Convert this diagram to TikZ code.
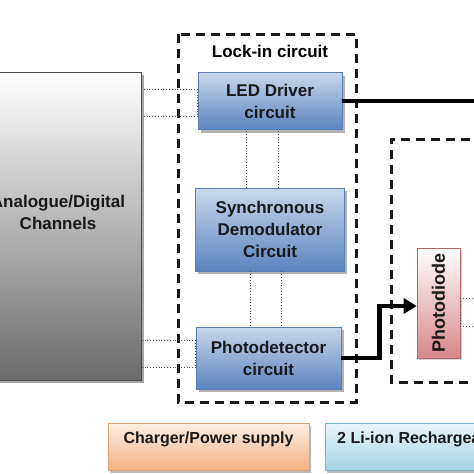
\documentclass[tikz,border=0pt]{standalone}
\usepackage{fontspec}
\setmainfont{Liberation Sans}
\usetikzlibrary{shadows,arrows.meta,calc}
\definecolor{bluetop}{HTML}{C9D8EC}
\definecolor{bluebot}{HTML}{5A83BF}
\definecolor{blueedge}{HTML}{5A7FB5}
\definecolor{redtop}{HTML}{FFFFFF}
\definecolor{redbot}{HTML}{D8868A}
\definecolor{rededge}{HTML}{B86468}
\definecolor{orgtop}{HTML}{FDF0E4}
\definecolor{orgbot}{HTML}{F4B183}
\definecolor{orgedge}{HTML}{E0A068}
\definecolor{cyntop}{HTML}{EAF6FA}
\definecolor{cynbot}{HTML}{A3D4E4}
\definecolor{cynedge}{HTML}{74B3C9}
\begin{document}
\begin{tikzpicture}[x=1pt,y=-1pt,
  font=\bfseries\fontsize{17}{22}\selectfont,
  bluebox/.style={rectangle, draw=blueedge, line width=0.6pt, top color=bluetop, bottom color=bluebot,
    align=center, inner sep=0pt, text=black!90,
    drop shadow={shadow xshift=2.5pt, shadow yshift=-3pt, opacity=0.5, fill=black!60}},
  dashbox/.style={draw=black!90, line width=3pt, dash pattern=on 9pt off 6pt},
  dotline/.style={draw=black!70, line width=0.8pt, dotted},
  thickline/.style={draw=black, line width=4.5pt},
]
\useasboundingbox (0,0) rectangle (474,474);
\clip (0,0) rectangle (474,474);
\fill[white] (0,0) rectangle (474,474);

% Analogue/Digital box
\node[rectangle, draw=black!70, line width=0.8pt, top color=white, bottom color=black!58,
  minimum width=166pt, minimum height=308pt, inner sep=0pt,
  drop shadow={shadow xshift=2.5pt, shadow yshift=-2.5pt, opacity=0.5, fill=black!70}] (an) at (58,226) {};
\node[align=center, text=black!90] (antext) at (58,212) {Analogue/Digital\\Channels};

% Lock-in dashed box
\draw[dashbox] (178,34) rectangle (356,402);
\node (locktitle) at (270,51) {Lock-in circuit};

% Right dashed box
\draw[dashbox] (500,139) -- (391,139) -- (391,382) -- (500,382);

% Blue boxes
\node[bluebox, minimum width=144pt, minimum height=57pt] (led) at (270,101) {LED Driver\\circuit};
\node[bluebox, minimum width=149pt, minimum height=83pt] (sync) at (270,229.5) {Synchronous\\Demodulator\\Circuit};
\node[bluebox, minimum width=145pt, minimum height=62pt] (pdet) at (268.5,358) {Photodetector\\circuit};

% Photodiode
\node[rectangle, draw=rededge, line width=0.6pt, top color=redtop, bottom color=redbot,
  minimum width=43pt, minimum height=110pt, inner sep=0pt,
  drop shadow={shadow xshift=2pt, shadow yshift=-2pt, opacity=0.35, fill=black!50}] (pdiode) at (438.5,303) {};
\node[rotate=90, text=black!90, font=\bfseries\fontsize{18}{22}\selectfont] (pdtext) at (438.5,303) {Photodiode};

% Bottom boxes
\node[rectangle, draw=orgedge, line width=0.6pt, top color=orgtop, bottom color=orgbot,
  minimum width=201pt, minimum height=47pt, inner sep=0pt,
  drop shadow={shadow xshift=1.5pt, shadow yshift=-2.5pt, opacity=0.45, fill=black!60}] (charger) at (208.5,446.5) {};
\node[font=\bfseries\fontsize{16}{20}\selectfont, text=black!90] (chtext) at (208.5,439) {Charger/Power supply};
\node[rectangle, draw=cynedge, line width=0.6pt, top color=cyntop, bottom color=cynbot,
  minimum width=200pt, minimum height=47pt, inner sep=0pt, anchor=north west,
  drop shadow={shadow xshift=1.5pt, shadow yshift=-2.5pt, opacity=0.45, fill=black!60}] (liion) at (325,423) {};
\node[font=\bfseries\fontsize{16}{20}\selectfont, text=black!90, anchor=west, inner sep=0pt] (litext) at (337,439) {2 Li-ion Rechargea};

% dotted connectors
\draw[dotline] ([yshift=12pt]led.west) -- ([yshift=12pt]led.west -| an.east);
\draw[dotline] ([yshift=-15pt]led.west) -- ([yshift=-15pt]led.west -| an.east);
\draw[dotline] ([yshift=12pt]led.west) -- ([yshift=-15pt]led.west);
\draw[dotline] ([yshift=18pt]pdet.west) -- ([yshift=18pt]pdet.west -| an.east);
\draw[dotline] ([yshift=-9pt]pdet.west) -- ([yshift=-9pt]pdet.west -| an.east);
\draw[dotline] ([yshift=18pt]pdet.west) -- ([yshift=-9pt]pdet.west);
\draw[dotline] ([xshift=-24pt]sync.north) -- ([xshift=-24pt]sync.north |- led.south);
\draw[dotline] ([xshift=8pt]sync.north) -- ([xshift=8pt]sync.north |- led.south);
\draw[dotline] ([xshift=-20pt]sync.south) -- ([xshift=-20pt]sync.south |- pdet.north);
\draw[dotline] ([xshift=11pt]sync.south) -- ([xshift=11pt]sync.south |- pdet.north);
\coordinate (rightA) at (480,298);
\coordinate (rightB) at (480,326);
\draw[dotline] ([yshift=5pt]pdiode.east) -- (rightA);
\draw[dotline] ([yshift=-23pt]pdiode.east) -- (rightB);
\draw[dotline] ([yshift=5pt]pdiode.east) -- ([yshift=-23pt]pdiode.east);

% thick connectors
\coordinate (ledout) at (480,101);
\draw[thickline] (led.east) -- (ledout);
\draw[thickline, -{Triangle[length=13pt,width=15pt]}] (pdet.east) -- ++(38,0) |- ([yshift=-3pt]pdiode.west);
\end{tikzpicture}
\end{document}
